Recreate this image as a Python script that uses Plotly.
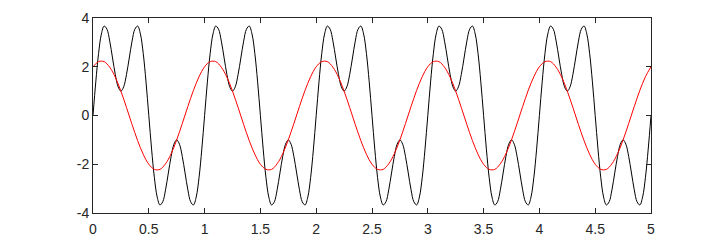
import plotly.graph_objects as go

# Black curve, sampled every 0.025 on [0, 5]
x_black = [i * 0.025 for i in range(201)]
y_black = [
    0.00, 1.38, 2.55, 3.34, 3.67, 3.54, 3.05, 2.36, 1.68, 1.18, 1.00, 1.18, 1.68, 2.36, 3.05, 3.54, 3.67, 3.34, 2.55, 1.38,
    0.00, -1.38, -2.55, -3.34, -3.67, -3.54, -3.05, -2.36, -1.68, -1.18, -1.00, -1.18, -1.68, -2.36, -3.05, -3.54, -3.67, -3.34, -2.55, -1.38,
    0.00, 1.38, 2.55, 3.34, 3.67, 3.54, 3.05, 2.36, 1.68, 1.18, 1.00, 1.18, 1.68, 2.36, 3.05, 3.54, 3.67, 3.34, 2.55, 1.38,
    0.00, -1.38, -2.55, -3.34, -3.67, -3.54, -3.05, -2.36, -1.68, -1.18, -1.00, -1.18, -1.68, -2.36, -3.05, -3.54, -3.67, -3.34, -2.55, -1.38,
    0.00, 1.38, 2.55, 3.34, 3.67, 3.54, 3.05, 2.36, 1.68, 1.18, 1.00, 1.18, 1.68, 2.36, 3.05, 3.54, 3.67, 3.34, 2.55, 1.38,
    0.00, -1.38, -2.55, -3.34, -3.67, -3.54, -3.05, -2.36, -1.68, -1.18, -1.00, -1.18, -1.68, -2.36, -3.05, -3.54, -3.67, -3.34, -2.55, -1.38,
    0.00, 1.38, 2.55, 3.34, 3.67, 3.54, 3.05, 2.36, 1.68, 1.18, 1.00, 1.18, 1.68, 2.36, 3.05, 3.54, 3.67, 3.34, 2.55, 1.38,
    0.00, -1.38, -2.55, -3.34, -3.67, -3.54, -3.05, -2.36, -1.68, -1.18, -1.00, -1.18, -1.68, -2.36, -3.05, -3.54, -3.67, -3.34, -2.55, -1.38,
    0.00, 1.38, 2.55, 3.34, 3.67, 3.54, 3.05, 2.36, 1.68, 1.18, 1.00, 1.18, 1.68, 2.36, 3.05, 3.54, 3.67, 3.34, 2.55, 1.38,
    0.00, -1.38, -2.55, -3.34, -3.67, -3.54, -3.05, -2.36, -1.68, -1.18, -1.00, -1.18, -1.68, -2.36, -3.05, -3.54, -3.67, -3.34, -2.55, -1.38,
    0.00,
]

# Red curve, sampled every 0.05 on [0, 5]
x_red = [i * 0.05 for i in range(101)]
y_red = [
    2.00, 2.21, 2.21, 1.98, 1.57, 1.00, 0.33, -0.37, -1.03, -1.59, -2.00, -2.21, -2.21, -1.98, -1.57, -1.00, -0.33, 0.37, 1.03, 1.59,
    2.00, 2.21, 2.21, 1.98, 1.57, 1.00, 0.33, -0.37, -1.03, -1.59, -2.00, -2.21, -2.21, -1.98, -1.57, -1.00, -0.33, 0.37, 1.03, 1.59,
    2.00, 2.21, 2.21, 1.98, 1.57, 1.00, 0.33, -0.37, -1.03, -1.59, -2.00, -2.21, -2.21, -1.98, -1.57, -1.00, -0.33, 0.37, 1.03, 1.59,
    2.00, 2.21, 2.21, 1.98, 1.57, 1.00, 0.33, -0.37, -1.03, -1.59, -2.00, -2.21, -2.21, -1.98, -1.57, -1.00, -0.33, 0.37, 1.03, 1.59,
    2.00, 2.21, 2.21, 1.98, 1.57, 1.00, 0.33, -0.37, -1.03, -1.59, -2.00, -2.21, -2.21, -1.98, -1.57, -1.00, -0.33, 0.37, 1.03, 1.59,
    2.00,
]

x_ticks = [0, 0.5, 1, 1.5, 2, 2.5, 3, 3.5, 4, 4.5, 5]
x_tick_labels = ["0", "0.5", "1", "1.5", "2", "2.5", "3", "3.5", "4", "4.5", "5"]
y_ticks = [-4, -2, 0, 2, 4]
y_tick_labels = ["-4", "-2", "0", "2", "4"]

fig = go.Figure()
fig.add_trace(go.Scatter(x=x_black, y=y_black, mode="lines",
                         line=dict(color="black", width=1, shape="spline"),
                         showlegend=False, hoverinfo="skip"))
fig.add_trace(go.Scatter(x=x_red, y=y_red, mode="lines",
                         line=dict(color="#ff0000", width=1, shape="spline"),
                         showlegend=False, hoverinfo="skip"))

axis_common = dict(showline=True, linecolor="#262626", linewidth=1, mirror="ticks",
                   ticks="inside", ticklen=5, tickcolor="#262626", tickwidth=1,
                   showgrid=False, zeroline=False, automargin=False,
                   tickfont=dict(family="Liberation Sans, Arial", size=14, color="#262626"))

fig.update_layout(
    width=720, height=240,
    margin=dict(l=93, r=69, t=18, b=27),
    paper_bgcolor="white", plot_bgcolor="white",
    xaxis=dict(range=[0, 5], tickvals=x_ticks, ticktext=x_tick_labels, ticklabelstandoff=3, **axis_common),
    yaxis=dict(range=[-4, 4], tickvals=y_ticks, ticktext=y_tick_labels, **axis_common),
)

fig.write_html("out.html")
